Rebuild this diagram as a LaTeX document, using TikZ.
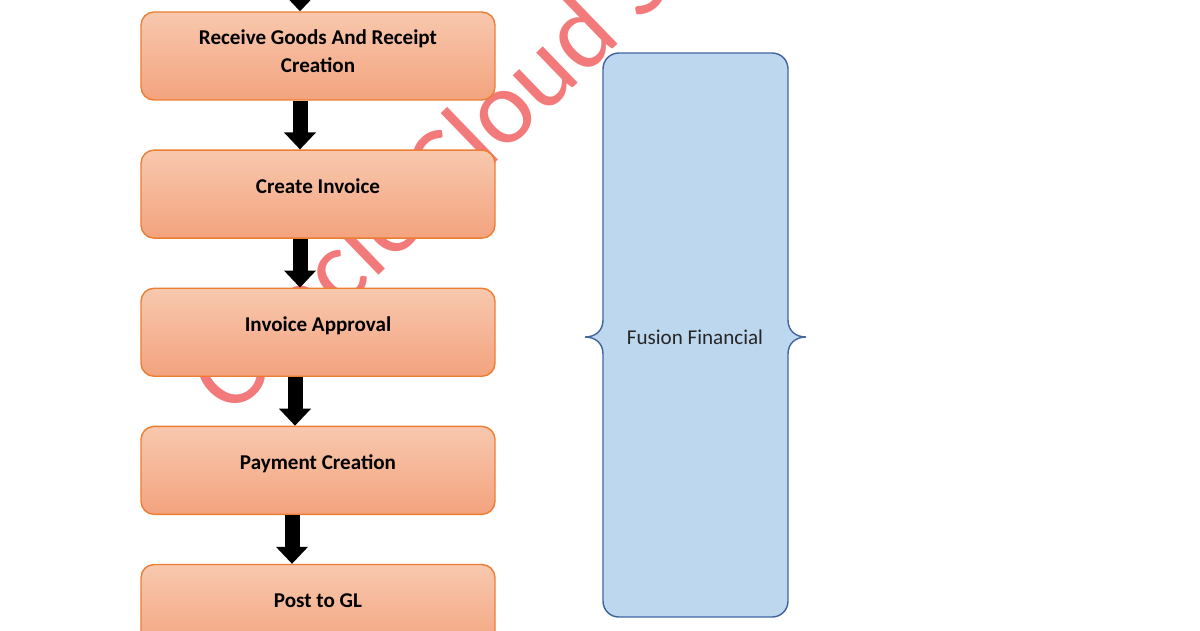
\documentclass[tikz,border=0pt]{standalone}
\usepackage{fontspec}
\setmainfont{Carlito}
\usetikzlibrary{arrows.meta}
\usetikzlibrary{positioning}
\definecolor{boxtop}{RGB}{248,200,174}
\definecolor{boxbottom}{RGB}{243,163,126}
\definecolor{boxborder}{RGB}{237,125,49}
\definecolor{finfill}{RGB}{189,215,238}
\definecolor{finborder}{RGB}{65,100,160}
\definecolor{wmred}{RGB}{243,122,122}

\begin{document}
\begin{tikzpicture}[x=0.02cm, y=-0.02cm,
		procnode/.style={
		% The shape:
		rectangle,
		rounded corners=0.26cm,
		% The size:
		minimum width=7.08cm,
		minimum height=1.76cm,
		% The border:
		draw=boxborder,
		line width=0.8pt,
		% The filling:
		top color=boxtop,
		bottom color=boxbottom,
		% Font
		font=\bfseries\fontsize{12}{15.9}\selectfont,
		align=center,
		text height=9pt,
		text depth=10.2pt
		},
		flowarrow/.style={
		line width=0.3cm,
		-{Triangle[length={0.34cm 0 1}, width={0.62cm 0 1}]}
		},
		node distance=0.975cm
	]
	\useasboundingbox (0,0) rectangle (1200,630);
	\clip (0,0) rectangle (1200,630);

	% watermark behind everything
	\node (WM)[anchor=base west, inner sep=0pt, rotate=44, text=wmred, font=\fontsize{60}{60}\selectfont] at (230,419) {Oracle Cloud S};

	\node (B1)[procnode, text height=21.2pt, text depth=2pt] at (318,56) {Receive Goods And Receipt\\Creation};
	\node (B2)[procnode, below=of B1] {Create Invoice};
	\node (B3)[procnode, below=of B2] {Invoice Approval};
	\node (B4)[procnode, below=of B3] {Payment Creation};
	\node (B5)[procnode, below=of B4] {Post to GL};
	\coordinate (TOP) at (300,-30);

	% Fusion Financial brace box
	\draw[draw=finborder, fill=finfill, line width=0.8pt]
		(619,53) -- (772,53) .. controls (781,53) and (788,60) .. (788,69)
		-- (788,320) .. controls (788,331) and (796,337) .. (806,337)
		.. controls (796,337) and (788,343) .. (788,354)
		-- (788,601) .. controls (788,610) and (781,617) .. (772,617)
		-- (619,617) .. controls (610,617) and (603,610) .. (603,601)
		-- (603,354) .. controls (603,343) and (595,337) .. (585,337)
		.. controls (595,337) and (603,331) .. (603,320)
		-- (603,69) .. controls (603,60) and (610,53) .. (619,53) -- cycle;
	\node (FIN)[font=\fontsize{12}{14}\selectfont, text=black!85] at (695,337) {Fusion Financial};

	\draw [flowarrow] (TOP) -- ([xshift=-0.36cm]B1.north);
	\draw [flowarrow] ([xshift=-0.36cm]B1.south) -- ([xshift=-0.36cm]B2.north);
	\draw [flowarrow] ([xshift=-0.36cm]B2.south) -- ([xshift=-0.36cm]B3.north);
	\draw [flowarrow] ([xshift=-0.46cm]B3.south) -- ([xshift=-0.46cm]B4.north);
	\draw [flowarrow] ([xshift=-0.52cm]B4.south) -- ([xshift=-0.52cm]B5.north);
\end{tikzpicture}
\end{document}
